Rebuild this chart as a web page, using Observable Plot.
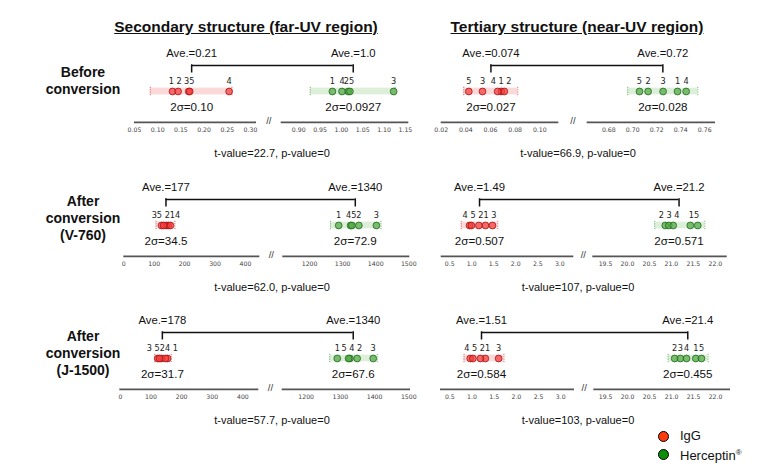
<!DOCTYPE html>
<html>
<head>
<meta charset="utf-8">
<script src="https://cdn.jsdelivr.net/npm/d3@7"></script>
<script src="https://cdn.jsdelivr.net/npm/@observablehq/plot@0.6"></script>
<style>
  html, body { margin: 0; padding: 0; background: #fff; }
  #fig { position: relative; width: 768px; height: 468px; overflow: hidden; background: #fff;
         font-family: "Liberation Sans", Arial, sans-serif; color: #111; }
  .title { position: absolute; top: 18px; font-weight: bold; font-size: 15.5px; text-decoration: underline;
           text-align: center; width: 340px; white-space: nowrap; }
  .rowlab { position: absolute; left: 13px; width: 140px; text-align: center; font-weight: bold;
            font-size: 14px; line-height: 16.7px; }
  .plotbox { position: absolute; }
  .legend { position: absolute; left: 658px; top: 428px; font-size: 13px; line-height: 16.5px; }
  .legend .item { display: flex; align-items: center; }
  .legend .sw { display: inline-block; width: 9px; height: 9px; border-radius: 50%; border: 1px solid #000;
                margin-right: 11px; }
</style>
</head>
<body>
<div id="fig"></div>
<script>
// ---------------- data ----------------
const columnTitles = ["Secondary structure (far-UV region)", "Tertiary structure (near-UV region)"];
const rowLabels = [["Before", "conversion"], ["After", "conversion", "(V-760)"], ["After", "conversion", "(J-1500)"]];
const seriesNames = ["IgG", "Herceptin®"];

// panel order: sec-before, ter-before, sec-V760, ter-V760, sec-J1500, ter-J1500
// values are listed for sample 1..5
const iggValues = [
  [0.132, 0.144, 0.167, 0.254, 0.169],
  [0.0688, 0.0712, 0.0535, 0.0658, 0.0424],
  [146, 139, 124, 153, 131],
  [1.31, 1.16, 1.47, 0.95, 0.99],
  [154, 134, 122, 147, 128],
  [1.30, 1.19, 1.60, 0.96, 1.02]
];
const herValues = [
  [0.979, 1.016, 1.1225, 1.0015, 1.020],
  [0.7373, 0.7128, 0.7253, 0.7445, 0.7056],
  [1288, 1349, 1402, 1324, 1328],
  [21.43, 20.86, 20.94, 21.04, 21.60],
  [1291, 1349, 1396, 1328, 1324],
  [21.55, 21.07, 21.20, 21.34, 21.68]
];
// sample-number labels (digits = sample ids)
const iggLabels = [["1 2", "35", "4"], ["5", "3", "4 1 2"], ["35 214"], ["4 5 21 3"], ["3 524 1"], ["4 5 21", "3"]];
const herLabels = [["1", "4", "25", "3"], ["5", "2", "3", "1", "4"], ["1", "45", "2", "3"], ["2 3 4", "15"], ["1", "5 4 2", "3"], ["2", "3", "4", "1", "5"]];
// shaded ranges
const iggBands = [[0.084, 0.26], [0.0383, 0.0821], [106, 168], [0.76, 1.59], [112, 166], [0.82, 1.72]];
const herBands = [[0.927, 1.126], [0.6958, 0.7542], [1263, 1416], [20.62, 21.76], [1269, 1408], [20.92, 21.83]];
const aveTexts = [["Ave.=0.21", "Ave.=1.0"], ["Ave.=0.074", "Ave.=0.72"], ["Ave.=177", "Ave.=1340"],
                  ["Ave.=1.49", "Ave.=21.2"], ["Ave.=178", "Ave.=1340"], ["Ave.=1.51", "Ave.=21.4"]];
const sigmaTexts = [["2σ=0.10", "2σ=0.0927"], ["2σ=0.027", "2σ=0.028"], ["2σ=34.5", "2σ=72.9"],
                    ["2σ=0.507", "2σ=0.571"], ["2σ=31.7", "2σ=67.6"], ["2σ=0.584", "2σ=0.455"]];
const tTexts = ["t-value=22.7, p-value=0", "t-value=66.9, p-value=0", "t-value=62.0, p-value=0",
                "t-value=107, p-value=0", "t-value=57.7, p-value=0", "t-value=103, p-value=0"];
const ticksLeft = [
  ["0.05", "0.10", "0.15", "0.20", "0.25", "0.30"],
  ["0.02", "0.04", "0.06", "0.08", "0.10"],
  ["0", "100", "200", "300", "400"],
  ["0.5", "1.0", "1.5", "2.0", "2.5", "3.0"],
  ["0", "100", "200", "300", "400"],
  ["0.5", "1.0", "1.5", "2.0", "2.5", "3.0"]
];
const ticksRight = [
  ["0.90", "0.95", "1.00", "1.05", "1.10", "1.15"],
  ["0.68", "0.70", "0.72", "0.74", "0.76"],
  ["1200", "1300", "1400", "1500"],
  ["19.5", "20.0", "20.5", "21.0", "21.5", "22.0"],
  ["1200", "1300", "1400", "1500"],
  ["19.5", "20.0", "20.5", "21.0", "21.5", "22.0"]
];
// broken-axis extents (scale domains) of each panel
const axisDomains = [
  [0.05, 0.313, 0.859, 1.158],
  [0.02, 0.1154, 0.662, 0.769],
  [0, 447, 1119, 1503],
  [0.305, 3.318, 19.21, 22.27],
  [-2, 452, 1130, 1505],
  [0.29, 3.31, 19.23, 22.34]
];

// ---------------- layout ----------------
const axisPixels = [
  [134, 256, 280.7, 408.3],
  [440.7, 558.3, 586.7, 715],
  [123.3, 259.3, 282.3, 409.3],
  [440.7, 573.3, 592.3, 726.7],
  [119.3, 258.3, 281.7, 410],
  [440, 574, 593.3, 730]
];
const rowTops = [40, 173.5, 306.5];
const colLeft = [100, 430], colWidth = [330, 320], colTextCenter = [271.5, 577.5];
const H = 120;
const LANE = {ave: 12.8, br: 25, brEnd: 32.5, lab: 40.7, pts: 51, sig: 67, axis: 81.8, tick: 89.5, t: 108.2};
const COLORS = {
  igg: {fill: "#f23d3d", stroke: "#a81212", band: "#fcd9d9", edge: "#e04848"},
  her: {fill: "#52a843", stroke: "#1c6a1c", band: "#ddefd9", edge: "#5aaa5a"}
};
const labelIds = g => g.replace(/\s/g, "").split("").map(Number);

const fig = document.getElementById("fig");

columnTitles.forEach((t, c) => {
  const d = document.createElement("div");
  d.className = "title";
  d.style.left = (c === 0 ? 246 : 577) - 170 + "px";
  d.textContent = t;
  fig.appendChild(d);
});
const rowLabelTops = [72.7, 201.7, 336.7];
rowLabels.forEach((lines, r) => {
  const d = document.createElement("div");
  d.className = "rowlab";
  d.style.top = (rowLabelTops[r] - 8.35) + "px";
  d.innerHTML = lines.join("<br>");
  fig.appendChild(d);
});

function seriesMarks(values, labels, band, col) {
  return [
    Plot.rect([band], {x1: b => b[0], x2: b => b[1], y1: () => LANE.pts - 3.4, y2: () => LANE.pts + 3.4,
                       fill: col.band}),
    Plot.ruleX(band, {x: d => d, y1: () => LANE.pts - 4.2, y2: () => LANE.pts + 4.2,
                      stroke: col.edge, strokeWidth: 0.8, strokeDasharray: "1.2,1.2"}),
    Plot.dot(values, {x: d => d, y: () => LANE.pts, r: 3.4, fill: col.fill, fillOpacity: 0.72,
                      stroke: col.stroke, strokeWidth: 0.8}),
    Plot.text(labels, {x: g => d3.mean(labelIds(g), id => values[id - 1]), y: () => LANE.lab, text: g => g,
                       fontFamily: "DejaVu Sans", fontSize: 8.2, fill: "#222"})
  ];
}

axisDomains.forEach((dom, p) => {
  const c = p % 2, r = Math.floor(p / 2);
  const L = colLeft[c], W = colWidth[c];
  const mI = d3.mean(iggValues[p]), mH = d3.mean(herValues[p]);
  const means = [mI, mH];
  const segs = [[dom[0], dom[1]], [dom[2], dom[3]]];
  const ticks = ticksLeft[p].concat(ticksRight[p]);
  const chart = Plot.plot({
    width: W, height: H, margin: 0,
    x: {type: "linear", domain: dom, range: axisPixels[p].map(v => v - L), axis: null},
    y: {type: "linear", domain: [0, H], range: [0, H], axis: null},
    style: {background: "transparent", overflow: "visible", fontFamily: "Liberation Sans, Arial, sans-serif"},
    marks: [
      ...seriesMarks(iggValues[p], iggLabels[p], iggBands[p], COLORS.igg),
      ...seriesMarks(herValues[p], herLabels[p], herBands[p], COLORS.her),
      // bracket between the averages
      Plot.ruleY([0], {x1: () => mI, x2: () => mH, y: () => LANE.br, stroke: "#111", strokeWidth: 1.5}),
      Plot.ruleX(means, {x: d => d, y1: () => LANE.br - 0.7, y2: () => LANE.brEnd, stroke: "#111", strokeWidth: 1.5}),
      Plot.text([0, 1], {x: i => means[i], y: () => LANE.ave, text: i => aveTexts[p][i], fontSize: 11.3, fill: "#111"}),
      Plot.text([0, 1], {x: i => means[i], y: () => LANE.sig, text: i => sigmaTexts[p][i], fontSize: 11.6, fill: "#111"}),
      // broken axis
      Plot.ruleY(segs, {x1: s => s[0], x2: s => s[1], y: () => LANE.axis, stroke: "#555", strokeWidth: 1.8}),
      Plot.text(ticks, {x: s => +s, y: () => LANE.tick, text: s => s, fontFamily: "DejaVu Sans", fontSize: 6.2, fill: "#444"}),
      Plot.text(["//"], {x: () => (dom[1] + dom[2]) / 2, y: () => LANE.axis - 1.5, text: d => d,
                         fontSize: 9.5, fill: "#333"}),
      Plot.text([tTexts[p]], {frameAnchor: "top", dx: colTextCenter[c] - L - W / 2, dy: LANE.t, text: d => d,
                              fontSize: 11, fill: "#111"})
    ]
  });
  const box = document.createElement("div");
  box.className = "plotbox";
  box.style.left = L + "px";
  box.style.top = rowTops[r] + "px";
  box.appendChild(chart);
  fig.appendChild(box);
});

// legend
const leg = document.createElement("div");
leg.className = "legend";
const legColors = ["#ff3a0a", "#0b8f0b"];
seriesNames.forEach((n, i) => {
  const it = document.createElement("div");
  it.className = "item";
  const sw = document.createElement("span");
  sw.className = "sw";
  sw.style.background = legColors[i];
  it.appendChild(sw);
  const tx = document.createElement("span");
  tx.innerHTML = n.replace("®", "<sup style='font-size:8px'>®</sup>");
  it.appendChild(tx);
  leg.appendChild(it);
});
fig.appendChild(leg);
</script>
</body>
</html>
